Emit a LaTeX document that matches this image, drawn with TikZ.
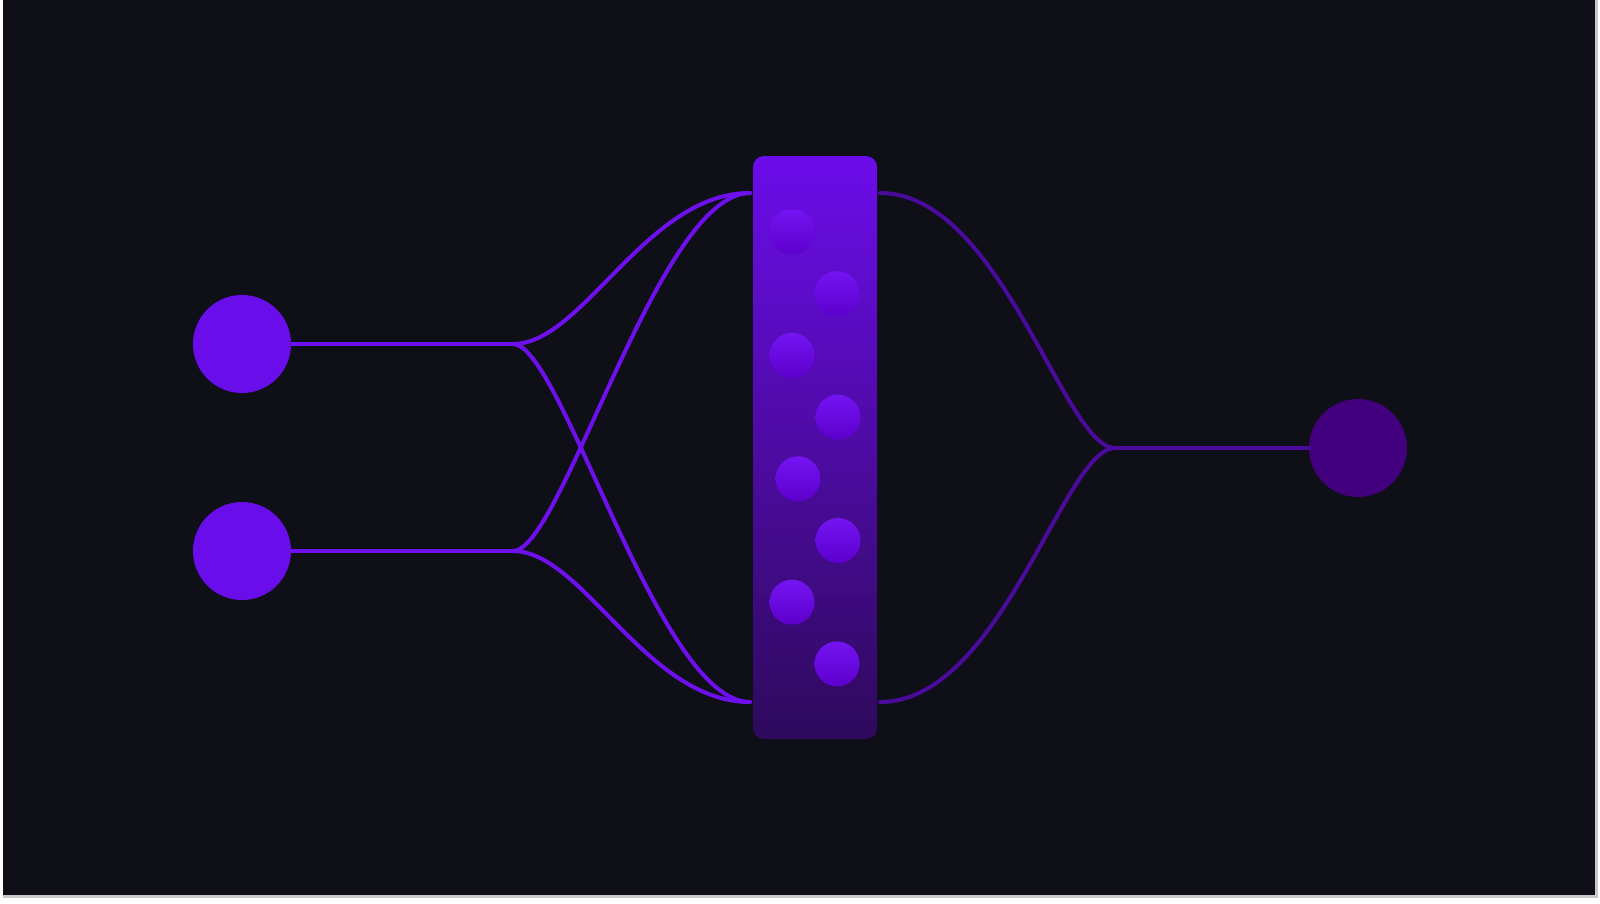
\documentclass[tikz,border=0pt]{standalone}
\definecolor{bg}{HTML}{0F0F17}
\definecolor{frame}{HTML}{C8C8CC}
\definecolor{neuron}{HTML}{6A0DEB}
\definecolor{outneuron}{HTML}{42007E}
\definecolor{wirein}{HTML}{6E10EE}
\definecolor{wireout}{HTML}{4A0A9C}
\definecolor{bartop}{HTML}{6C0CEA}
\definecolor{barbot}{HTML}{2E0A5C}
\definecolor{unittop}{HTML}{7414F2}
\definecolor{unitbot}{HTML}{5C00CC}
\begin{document}
\begin{tikzpicture}
  [x=1pt,y=-1pt,line cap=round,
   inp/.style={circle,fill=neuron,minimum size=98pt,inner sep=0pt},
   outp/.style={circle,fill=outneuron,minimum size=98pt,inner sep=0pt},
   layer/.style={rectangle,rounded corners=11pt,top color=bartop,bottom color=barbot,
                 minimum width=124pt,minimum height=583pt,inner sep=0pt},
   unit/.style={circle,top color=unittop,bottom color=unitbot,minimum size=45pt,inner sep=0pt},
   wire/.style={draw=wirein,line width=4pt},
   owire/.style={draw=wireout,line width=4pt}]
  \useasboundingbox (0,0) rectangle (1600,903);
  \fill[white] (0,0) rectangle (1600,903);
  \fill[frame] (3,0) rectangle (1598,898);
  \fill[bg] (3,0) rectangle (1595,895);

  \node[inp]  (in1) at (242,344) {};
  \node[inp]  (in2) at (242,551) {};
  \node[outp] (out) at (1358,448) {};

  \coordinate (s1) at (513,344);
  \coordinate (s2) at (513,551);
  \coordinate (t1) at (750,193);
  \coordinate (b1) at (750,702);
  \coordinate (r1) at (880,193);
  \coordinate (r2) at (880,702);
  \coordinate (m)  at (1115,448);

  \draw[wire] (in1) -- (s1);
  \draw[wire] (in2) -- (s2);
  \draw[wire] (s1) .. controls +(70,0) and +(-104,0) .. (t1);
  \draw[wire] (s1) .. controls +(49,0) and +(-92,0) .. (b1);
  \draw[wire] (s2) .. controls +(49,0) and +(-92,0) .. (t1);
  \draw[wire] (s2) .. controls +(70,0) and +(-104,0) .. (b1);

  \draw[owire] (r1) .. controls +(121,0) and +(-51,0) .. (m);
  \draw[owire] (r2) .. controls +(121,0) and +(-51,0) .. (m);
  \draw[owire] (m) -- (out);

  \node[layer] (bar) at (815,447.5) {};
  \foreach \i/\px/\py in {1/792/232,2/837/293.7,3/792/355.4,4/838/417.1,
                          5/798/478.8,6/838/540.5,7/792/602.2,8/837/663.9}
    \node[unit] (u\i) at (\px,\py) {};

\end{tikzpicture}
\end{document}
